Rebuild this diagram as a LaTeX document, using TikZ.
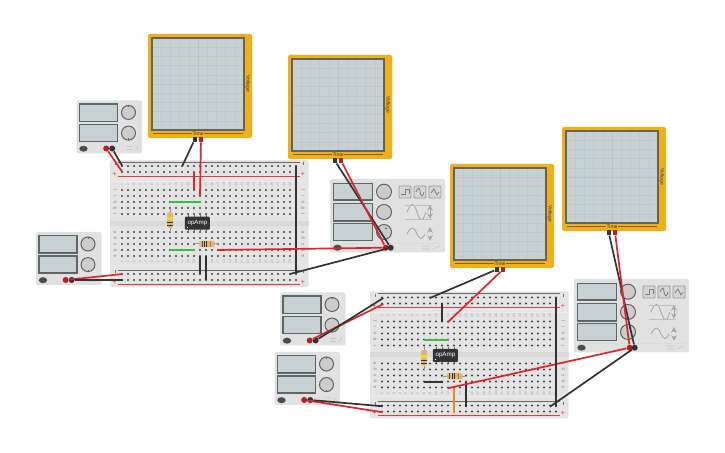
\documentclass[tikz,border=0pt]{standalone}
\usepackage{fontspec}
\setmainfont{Liberation Sans}
\usetikzlibrary{arrows, calc, positioning}

\definecolor{scopeyellow}{HTML}{F2AF17}
\definecolor{screenfill}{HTML}{C7D1D3}
\definecolor{screenedge}{HTML}{5F6465}
\definecolor{gridline}{HTML}{B8C4C6}
\definecolor{panelgrey}{HTML}{E1E1E1}
\definecolor{boardgrey}{HTML}{E4E4E4}
\definecolor{bandgrey}{HTML}{DADADA}
\definecolor{holegrey}{HTML}{404040}
\definecolor{wirered}{HTML}{E0242B}
\definecolor{wireblack}{HTML}{333333}
\definecolor{wiregreen}{HTML}{3EBE3E}
\definecolor{wireorange}{HTML}{F08A12}
\definecolor{railred}{HTML}{D8403F}
\definecolor{termred}{HTML}{B81F22}
\definecolor{resbody}{HTML}{DDB67E}

\tikzset{
    wire/.style={line width=0.85pt},
    redwire/.style={wire, wirered},
    blackwire/.style={wire, wireblack},
    greenwire/.style={wire, wiregreen},
    orangewire/.style={wire, wireorange},
    terminal/.style={circle, inner sep=0pt, minimum size=3pt},
    redterm/.style={terminal, fill=termred},
    blackterm/.style={terminal, fill=wireblack},
    scoperedterm/.style={rectangle, inner sep=0pt, minimum width=2pt, minimum height=2.6pt, fill=termred},
    scopeblackterm/.style={rectangle, inner sep=0pt, minimum width=2pt, minimum height=2.6pt, fill=wireblack},
    screen/.style={draw=screenedge, line width=0.8pt, fill=screenfill},
    knob/.style={draw=screenedge, line width=0.5pt, fill=gray!40},
    tinytext/.style={inner sep=0pt, text=black!50, font=\fontsize{2.2}{3}\selectfont},
    opamp/.style={fill=black!80, rounded corners=0.5pt, minimum width=12.5pt, minimum height=6.5pt, inner sep=0pt, text=white, font=\fontsize{3.1}{4}\selectfont}
}

% oscilloscope: name, left, top
\newcommand{\oscope}[3]{
    \begin{scope}[shift={(#2,#3)}]
        \fill[scopeyellow, rounded corners=1pt] (0,0) rectangle (104,104);
        \fill[screenfill] (4,4) rectangle (96,96);
        \foreach \k in {1,...,9} {
            \draw[gridline!60!screenfill, line width=0.2pt] (4+9.2*\k,4) -- (4+9.2*\k,96);
            \draw[gridline!60!screenfill, line width=0.2pt] (4,4+9.2*\k) -- (96,4+9.2*\k);
        }
        \draw[gridline, line width=0.35pt] (50,4) -- (50,96) (4,50) -- (96,50);
        \draw[screenedge, line width=0.75pt] (4,4) rectangle (96,96);
        \draw[black!45!scopeyellow, line width=0.15pt] (5,99.5) -- (44,99.5) (56,99.5) -- (95,99.5);
        \node[tinytext, text=black!80, font=\fontsize{2.5}{3}\selectfont] (#1time) at (50,99.5) {Time};
        \node[tinytext, text=black!80, font=\fontsize{2.5}{3}\selectfont, rotate=-90] (#1volt) at (100,50) {Voltage};
        \node[scopeblackterm] (#1b) at (46.7,105.5) {};
        \node[scoperedterm] (#1r) at (53,105.5) {};
    \end{scope}
}

% power supply: name, left, top
\newcommand{\supply}[3]{
    \begin{scope}[shift={(#2,#3)}]
        \fill[panelgrey, rounded corners=1pt] (0,0) rectangle (65.5,53);
        \draw[screen] (3,3.5) rectangle (41,21);
        \draw[screen] (3,24) rectangle (41,41);
        \draw[knob] (52,12) circle (7);
        \draw[knob] (52,32.6) circle (7);
        \draw[black!60, line width=0.3pt] (52,12) ++(0,-7) -- ++(0,2);
        \draw[black!60, line width=0.3pt] (52,32.6) ++(0,7) -- ++(0,-2);
        \fill[black!12, rounded corners=2pt] (2.5,45) rectangle (17,51.5);
        \fill[black!70] (7,48.2) ellipse (4.2 and 3);
        \draw[black!22, line width=0.3pt] (50,46) -- (56,46) (50,49) -- (56,49) (59,50) -- (62,45);
        \node[redterm] (#1r) at (29.7,48) {};
        \node[blackterm] (#1b) at (35.7,48) {};
    \end{scope}
}

% function generator: name, left, top
\newcommand{\fgen}[3]{
    \begin{scope}[shift={(#2,#3)}]
        \fill[panelgrey, rounded corners=1pt] (0,0) rectangle (115,73.5);
        \draw[screen] (3.5,4.5) rectangle (42.5,21);
        \draw[screen] (3.5,24.5) rectangle (42.5,42);
        \draw[screen] (3.5,44.5) rectangle (42.5,61.5);
        \draw[knob] (54,12.7) circle (7.5);
        \draw[knob] (54,33) circle (7.5);
        \draw[knob] (54,53) circle (7.5);
        \fill[black!70] (56,49.5) circle (0.8);
        \foreach \bx in {75,90,105} {
            \draw[black!40, line width=0.4pt, fill=black!16, rounded corners=0.5pt] (\bx-6,7) rectangle (\bx+6,19);
        }
        \draw[black!50, line width=0.4pt] (71,15) -- (75,15) -- (75,10) -- (79,10) -- (79,15);
        \draw[black!50, line width=0.4pt] (86,13) .. controls (88,8) and (90,8) .. (90,13) .. controls (91,18) and (93,18) .. (94,13);
        \draw[black!50, line width=0.4pt] (101,14) -- (104,10) -- (107,16) -- (109,13);
        \draw[black!35, line width=0.4pt] (77,33) .. controls (81,23) and (84,23) .. (87,33) .. controls (90,43) and (93,43) .. (96,33);
        \draw[black!25, line width=0.25pt] (75,26) -- (102,26) (75,40) -- (102,40);
        \draw[black!35, line width=0.3pt, <->, >=stealth] (100,26) -- (100,40);
        \draw[black!35, line width=0.4pt] (77,55) .. controls (81,47) and (84,47) .. (87,55) .. controls (90,61) and (92,61) .. (95,55);
        \draw[black!35, line width=0.3pt, ->, >=stealth] (100,53) -- (100,48);
        \draw[black!35, line width=0.3pt, ->, >=stealth] (100,57) -- (100,62);
        \draw[black!14, line width=0.3pt] (3,64) -- (112,64);
        \fill[black!12, rounded corners=2pt] (3,65.5) rectangle (19,72);
        \fill[black!70] (7.5,68.7) ellipse (4.2 and 3);
        \draw[black!22, line width=0.3pt] (92,67) -- (100,67) (92,70) -- (100,70) (103,70) -- (110,67);
        \node[redterm] (#1r) at (55.7,68.7) {};
        \node[blackterm] (#1b) at (60.7,68.7) {};
    \end{scope}
}

% breadboard: name, left, top
\newcommand{\bboard}[3]{
    \begin{scope}[shift={(#2,#3)}]
        \fill[boardgrey, rounded corners=1pt] (0,0) rectangle (198.5,127);
        \fill[bandgrey] (0,61) rectangle (198.5,66);
        \draw[white!92!black, line width=0.3pt] (0,21) -- (198.5,21) (0,105) -- (198.5,105);
        \draw[black!60, line width=0.45pt] (8,2) -- (190,2) (8,110) -- (190,110);
        \draw[railred, line width=0.45pt] (8,16.3) -- (190,16.3) (8,124.3) -- (190,124.3);
        \foreach \i [count=\c] in {0,...,29} {
            \foreach \r in {6,12,30,36,42,48,54,72,78,84,90,96,114,120} {
                \fill[holegrey] (12+6*\i,\r) circle (1.05);
            }
            \node[tinytext, text=black!38, rotate=90, font=\fontsize{1.7}{2}\selectfont] (#1t\c) at (12+6*\i,24.3) {\c};
            \node[tinytext, text=black!38, rotate=90, font=\fontsize{1.7}{2}\selectfont] (#1u\c) at (12+6*\i,101.7) {\c};
        }
        \foreach \l/\r in {j/30,i/36,h/42,g/48,f/54,e/72,d/78,c/84,b/90,a/96} {
            \node[tinytext, rotate=90] (#1l\l) at (5,\r) {\l};
            \node[tinytext, rotate=90] (#1m\l) at (193,\r) {\l};
        }
        \draw[black!55, line width=0.3pt] (5,2.5) -- (5,5.5) (193,2.5) -- (193,5.5) (5,110.2) -- (5,113.2) (193,110.2) -- (193,113.2);
        \node[tinytext, text=railred, font=\fontsize{3.5}{4}\selectfont] (#1pa) at (4.3,14.7) {+};
        \node[tinytext, text=railred, font=\fontsize{3.5}{4}\selectfont] (#1pb) at (193,14.7) {+};
        \node[tinytext, text=railred, font=\fontsize{3.5}{4}\selectfont] (#1pc) at (4.3,122.3) {+};
        \node[tinytext, text=railred, font=\fontsize{3.5}{4}\selectfont] (#1pd) at (193,122.3) {+};
    \end{scope}
}

% resistor bands: vertical one at x, top of body
\newcommand{\resv}[3]{
    \draw[black!40, line width=0.5pt] (#2,#3-4) -- (#2,#3+20);
    \fill[resbody, rounded corners=1.2pt] (#2-3.2,#3) rectangle (#2+3.2,#3+16);
    \fill[yellow!90!black] (#2-3.2,#3+5.2) rectangle (#2+3.2,#3+8);
    \fill[black!80] (#2-3.2,#3+9.8) rectangle (#2+3.2,#3+11.2);
    \fill[black!80] (#2-3.2,#3+13) rectangle (#2+3.2,#3+14.4);
    \coordinate (#1) at (#2,#3);
}
% horizontal one at y, left of body
\newcommand{\resh}[3]{
    \draw[black!40, line width=0.5pt] (#2-6,#3) -- (#2+20,#3);
    \fill[resbody, rounded corners=1.2pt] (#2,#3-3.2) rectangle (#2+16,#3+3.2);
    \fill[black!70] (#2+2.5,#3-3.2) rectangle (#2+3.7,#3+3.2);
    \fill[black!80] (#2+4.8,#3-3.2) rectangle (#2+6,#3+3.2);
    \fill[black!80] (#2+7,#3-3.2) rectangle (#2+8.2,#3+3.2);
    \fill[orange!85!black] (#2+11,#3-3.2) rectangle (#2+12.2,#3+3.2);
    \coordinate (#1) at (#2,#3);
}
% op amp with its pins
\newcommand{\opchip}[3]{
    \foreach \i in {0,1,2,3} {
        \fill[black!55] (#2-9+6*\i-0.8,#3-8) rectangle (#2-9+6*\i+0.8,#3+8);
    }
    \node[opamp] (#1) at (#2,#3) {opAmp};
    \fill[white] (#2-10.5,#3+3.5) rectangle (#2-9,#3+5);
}

\begin{document}
\begin{tikzpicture}[x=0.5pt, y=-0.5pt]
    \path[use as bounding box] (0,0) rectangle (725,453);

    \bboard{bbone}{110}{160}
    \bboard{bbtwo}{370}{291.5}

    \oscope{oa}{148}{34}
    \oscope{ob}{288}{55}
    \oscope{oc}{450}{164}
    \oscope{od}{562}{127}

    \supply{sa}{76.5}{100.5}
    \supply{sb}{36}{232}
    \supply{sc}{280}{292.5}
    \supply{sd}{274.5}{352}

    \fgen{fa}{330}{179}
    \fgen{fb}{574}{279}

    \resv{ra}{170}{212}
    \resh{rb}{199}{244}
    \resv{rc}{424}{350}
    \resh{rd}{446.7}{376.3}
    \opchip{opa}{197.4}{223.2}
    \opchip{opb}{445.4}{355.5}

    % first board
    \coordinate (a1) at (122.3,166);
    \coordinate (a2) at (122.3,172);
    \coordinate (a3) at (182.3,166);
    \coordinate (a4) at (200,196);
    \coordinate (a5) at (194,172);
    \coordinate (a6) at (194,190);
    \coordinate (a7) at (170,202);
    \coordinate (a8) at (200.7,202);
    \coordinate (a9) at (170,250);
    \coordinate (a10) at (195,250);
    \coordinate (a11) at (296,166);
    \coordinate (a12) at (296,274);
    \coordinate (a13) at (290,274);
    \coordinate (a14) at (217.7,250);
    \coordinate (a15) at (122.7,274);
    \coordinate (a16) at (122.7,280);
    \coordinate (a17) at (200,256);
    \coordinate (a18) at (200,274);
    \coordinate (a19) at (206,256);
    \coordinate (a20) at (206,280);

    % second board
    \coordinate (b1) at (430,298);
    \coordinate (b2) at (447.7,322.3);
    \coordinate (b3) at (442,303.3);
    \coordinate (b4) at (442,322.3);
    \coordinate (b5) at (424,340);
    \coordinate (b6) at (449,340);
    \coordinate (b7) at (424,382.3);
    \coordinate (b8) at (443,382.3);
    \coordinate (b9) at (454,388.3);
    \coordinate (b10) at (454,412.7);
    \coordinate (b11) at (466,382.3);
    \coordinate (b12) at (466,406.7);
    \coordinate (b13) at (447.7,388.3);
    \coordinate (b14) at (550,406.7);
    \coordinate (b15) at (556,298);
    \coordinate (b16) at (556,406.7);
    \coordinate (b17) at (383.3,304);
    \coordinate (b18) at (383.3,298);
    \coordinate (b19) at (382.7,412.3);
    \coordinate (b20) at (382.7,406.3);

    \draw
    (sab) edge[blackwire] (a1)
    (sar) edge[redwire] (a2)
    (oab) edge[blackwire] (a3)
    (oar) edge[redwire] (a4)
    (a5) edge[redwire] (a6)
    (a7) edge[greenwire] (a8)
    (a9) edge[greenwire] (a10)
    (a11) edge[blackwire] (a12)
    (fab) edge[blackwire] (a13)
    (far) edge[redwire] (a14)
    (obb) edge[blackwire] (fab)
    (obr) edge[redwire] (far)
    (sbr) edge[redwire] (a15)
    (sbb) edge[blackwire] (a16)
    (a17) edge[blackwire] (a18)
    (a19) edge[blackwire] (a20);

    \draw
    (ocb) edge[blackwire] (b1)
    (ocr) edge[redwire] (b2)
    (b3) edge[blackwire] (b4)
    (b5) edge[greenwire] (b6)
    (b7) edge[blackwire] (b8)
    (b9) edge[orangewire] (b10)
    (b11) edge[blackwire] (b12)
    (fbr) edge[redwire] (b13)
    (fbb) edge[blackwire] (b14)
    (b15) edge[blackwire] (b16)
    (scr) edge[redwire] (b17)
    (scb) edge[blackwire] (b18)
    (sdr) edge[redwire] (b19)
    (sdb) edge[blackwire] (b20)
    (odb) edge[blackwire] (fbb)
    (odr) edge[redwire] (fbr);
\end{tikzpicture}
\end{document}
